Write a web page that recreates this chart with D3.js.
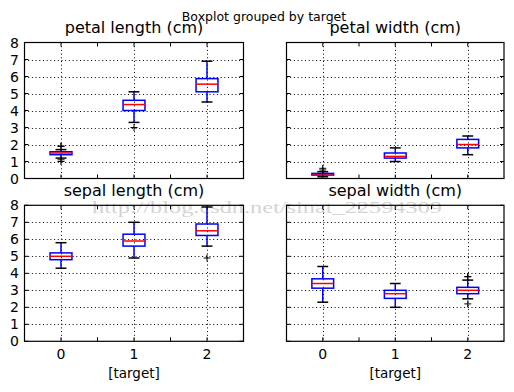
<!DOCTYPE html>
<html>
<head>
<meta charset="UTF-8">
<title>Boxplot grouped by target</title>
<script src="https://cdn.jsdelivr.net/npm/d3@7/dist/d3.min.js"></script>
<style>
  body{margin:0;background:#fff}
  text{font-family:'DejaVu Sans',sans-serif;fill:#000}
</style>
</head>
<body>
<div id="chart"></div>
<script>
// ---- data (per group: [lower whisker, q1, median, q3, upper whisker]) ----
const categories = ['0', '1', '2'];
const yTicks = [0, 1, 2, 3, 4, 5, 6, 7, 8];
const panelTitles = ['petal length (cm)', 'petal width (cm)', 'sepal length (cm)', 'sepal width (cm)'];

const petalLengthStats  = [[1.2, 1.4, 1.5, 1.575, 1.7], [3.3, 4.0, 4.35, 4.6, 5.1], [4.5, 5.1, 5.55, 5.875, 6.9]];
const petalLengthFliers = [[1.0, 1.1, 1.9, 1.9], [3.0], []];
const petalWidthStats   = [[0.1, 0.2, 0.2, 0.3, 0.4], [1.0, 1.2, 1.3, 1.5, 1.8], [1.4, 1.8, 2.0, 2.3, 2.5]];
const petalWidthFliers  = [[0.5, 0.6], [], []];
const sepalLengthStats  = [[4.3, 4.8, 5.0, 5.2, 5.8], [4.9, 5.6, 5.9, 6.3, 7.0], [5.6, 6.225, 6.5, 6.9, 7.9]];
const sepalLengthFliers = [[], [], [4.9]];
const sepalWidthStats   = [[2.3, 3.125, 3.4, 3.675, 4.4], [2.0, 2.525, 2.8, 3.0, 3.4], [2.5, 2.8, 3.0, 3.175, 3.6]];
const sepalWidthFliers  = [[], [], [2.2, 3.8, 3.8]];

const W = 514, H = 392;
const svg = d3.select('#chart').append('svg').attr('width', W).attr('height', H);

const cols = [[24.5, 243.5], [286.5, 504]];
const rows = [[42.5, 178.5], [205.3, 341.3]];

const panels = [
  {title: panelTitles[0], stats: petalLengthStats, fliers: petalLengthFliers, c: 0, r: 0},
  {title: panelTitles[1], stats: petalWidthStats, fliers: petalWidthFliers, c: 1, r: 0},
  {title: panelTitles[2], stats: sepalLengthStats, fliers: sepalLengthFliers, c: 0, r: 1},
  {title: panelTitles[3], stats: sepalWidthStats, fliers: sepalWidthFliers, c: 1, r: 1}
];

// suptitle
svg.append('text').attr('x', 264).attr('y', 20.5).attr('text-anchor', 'middle')
   .style('font-size', '12.5px').text('Boxplot grouped by target');

panels.forEach(p => {
  const [x0, x1] = cols[p.c], [y0, y1] = rows[p.r];
  const x = d3.scaleLinear().domain([0.5, 3.5]).range([x0, x1]);
  const y = d3.scaleLinear().domain([0, 8]).range([y1, y0]);
  const g = svg.append('g');

  // grid
  g.selectAll('.gy').data(yTicks.slice(1, -1)).enter().append('line')
   .attr('x1', x0).attr('x2', x1).attr('y1', d => Math.round(y(d)) + 0.5).attr('y2', d => Math.round(y(d)) + 0.5)
   .attr('stroke', '#000').attr('stroke-width', 1).attr('stroke-dasharray', '1,2.7');
  g.selectAll('.gx').data([1, 2, 3]).enter().append('line')
   .attr('x1', d => Math.round(x(d)) + 0.5).attr('x2', d => Math.round(x(d)) + 0.5).attr('y1', y0).attr('y2', y1)
   .attr('stroke', '#000').attr('stroke-width', 1).attr('stroke-dasharray', '1,2.7');

  // boxes
  p.stats.forEach((s, i) => {
    const cx = x(i + 1), bw = x(1.15) - x(1), cw = x(1.075) - x(1);
    const [lo, q1, med, q3, hi] = s;
    g.append('line').attr('x1', cx).attr('x2', cx).attr('y1', y(q3)).attr('y2', y(hi))
     .attr('stroke', '#0000ff').attr('stroke-width', 1.5);
    g.append('line').attr('x1', cx).attr('x2', cx).attr('y1', y(q1)).attr('y2', y(lo))
     .attr('stroke', '#0000ff').attr('stroke-width', 1.5);
    [lo, hi].forEach(v => g.append('line').attr('x1', cx - cw).attr('x2', cx + cw)
     .attr('y1', y(v)).attr('y2', y(v)).attr('stroke', '#000').attr('stroke-width', 1.5));
    g.append('rect').attr('x', cx - bw).attr('width', 2 * bw)
     .attr('y', y(q3)).attr('height', y(q1) - y(q3))
     .attr('fill', 'none').attr('stroke', '#0000ff').attr('stroke-width', 1.5);
    g.append('line').attr('x1', cx - bw).attr('x2', cx + bw).attr('y1', y(med)).attr('y2', y(med))
     .attr('stroke', '#ff0000').attr('stroke-width', 1.5);
    p.fliers[i].forEach(v => {
      g.append('path').attr('d', `M${cx - 3.5},${y(v)}h7M${cx},${y(v) - 3.5}v7`)
       .attr('stroke', '#000').attr('stroke-width', 1);
    });
  });

  // ticks (inward, all sides)
  yTicks.forEach(t => {
    g.append('line').attr('x1', x0).attr('x2', x0 + 4).attr('y1', y(t)).attr('y2', y(t)).attr('stroke', '#000');
    g.append('line').attr('x1', x1).attr('x2', x1 - 4).attr('y1', y(t)).attr('y2', y(t)).attr('stroke', '#000');
  });
  [1, 1.5, 2, 2.5, 3].forEach(t => {
    g.append('line').attr('x1', x(t)).attr('x2', x(t)).attr('y1', y1).attr('y2', y1 - 4).attr('stroke', '#000');
    g.append('line').attr('x1', x(t)).attr('x2', x(t)).attr('y1', y0).attr('y2', y0 + 4).attr('stroke', '#000');
  });

  // frame
  g.append('rect').attr('x', x0).attr('y', y0).attr('width', x1 - x0).attr('height', y1 - y0)
   .attr('fill', 'none').attr('stroke', '#000').attr('stroke-width', 1.2);

  // title
  g.append('text').attr('x', (x0 + x1) / 2).attr('y', y0 - 9.5).attr('text-anchor', 'middle')
   .style('font-size', '16px').text(p.title);

  // y tick labels on left column only
  if (p.c === 0) {
    g.selectAll('.yl').data(yTicks).enter().append('text')
     .attr('x', 19).attr('y', d => y(d)).attr('dy', '0.36em').attr('text-anchor', 'end')
     .style('font-size', '14px').text(d => d);
  }
  // x tick labels + label on bottom row only
  if (p.r === 1) {
    g.selectAll('.xl').data(categories).enter().append('text')
     .attr('x', (d, i) => x(i + 1)).attr('y', 359).attr('text-anchor', 'middle')
     .style('font-size', '14px').text(d => d);
    g.append('text').attr('x', (x0 + x1) / 2).attr('y', 377.5).attr('text-anchor', 'middle')
     .style('font-size', '13.5px').text('[target]');
  }
});

// watermark
svg.append('text').attr('x', 92).attr('y', 213).attr('textLength', 350).attr('lengthAdjust', 'spacingAndGlyphs')
   .style('font-family', "'Liberation Serif',serif").style('font-size', '16px')
   .style('fill', '#000').style('opacity', 0.17).text('http://blog.csdn.net/sinat_22594309');
</script>
</body>
</html>
